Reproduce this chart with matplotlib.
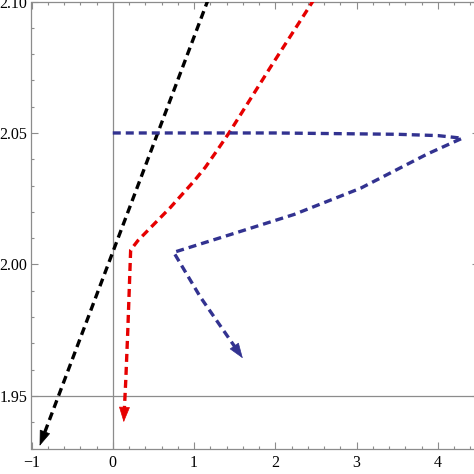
import numpy as np
import matplotlib
matplotlib.use("Agg")
import matplotlib.pyplot as plt
from matplotlib.patches import FancyArrowPatch
from matplotlib.ticker import MultipleLocator, FormatStrFormatter

plt.rcParams['font.family'] = 'serif'
plt.rcParams['font.serif'] = ['Liberation Serif', 'DejaVu Serif']
plt.rcParams['font.size'] = 11.5

# trajectories
black_x = [1.25, -0.90]
black_y = [2.107, 1.931]

red_x = [2.50, 2.46, 2.20, 1.94, 1.43, 1.28, 1.14, 1.00, 0.71, 0.31, 0.22, 0.185, 0.16, 0.135]
red_y = [2.102, 2.100, 2.0875, 2.075, 2.050, 2.0432, 2.0370, 2.0317, 2.0217, 2.0091, 2.0055, 1.975, 1.956, 1.940]

blue_x = [0.0, 2.0, 3.5, 4.0, 4.30, 3.87, 3.05, 2.23, 1.41, 0.75, 1.08, 1.60]
blue_y = [2.050, 2.050, 2.0495, 2.049, 2.048, 2.042, 2.029, 2.019, 2.011, 2.0046, 1.9875, 1.9643]

x_ticks = [-1, 0, 1, 2, 3, 4]
y_ticks = [1.95, 2.00, 2.05, 2.10]

fig = plt.figure(figsize=(4.74, 4.74), dpi=100)
ax = fig.add_axes([31.5 / 474, 25.5 / 474, 447 / 474, 447 / 474])
ax.set_xlim(-1.0, 4.5)
ax.set_ylim(1.93, 2.10)

gray = '#8c8c8c'
ax.axvline(0, color=gray, lw=0.9, zorder=1)
ax.axhline(1.95, color=gray, lw=0.9, zorder=1)

ax.set_xticks(x_ticks)
ax.set_yticks(y_ticks)
ax.xaxis.set_minor_locator(MultipleLocator(0.2))
ax.yaxis.set_minor_locator(MultipleLocator(0.01))
ax.yaxis.set_major_formatter(FormatStrFormatter('%.2f'))
ax.tick_params(which='both', direction='in', top=True, right=True, color=gray, width=0.8)
ax.tick_params(which='major', length=5)
ax.tick_params(which='minor', length=2.5)
ax.tick_params(axis='y', pad=3)
ax.tick_params(axis='x', pad=5)
for s in ax.spines.values():
    s.set_color(gray)
    s.set_linewidth(0.9)

inv = ax.transData.inverted()


def arrow_line(xs, ys, color):
    # dashed body, solid head at the last point
    tip = ax.transData.transform((xs[-1], ys[-1]))
    prev = ax.transData.transform((xs[-2], ys[-2]))
    d = (prev - tip) / np.linalg.norm(prev - tip)
    base = inv.transform(tip + d * 12)
    ax.plot(list(xs[:-1]) + [base[0]], list(ys[:-1]) + [base[1]], color=color,
            lw=2.4, ls=(0, (2.4, 1.5)), dash_capstyle='butt', zorder=3)
    start = inv.transform(tip + d * 14)
    ax.add_patch(FancyArrowPatch(tuple(start), (xs[-1], ys[-1]),
                                 arrowstyle='-|>,head_length=10,head_width=3.6',
                                 mutation_scale=1, color=color, lw=0.5,
                                 shrinkA=0, shrinkB=0, zorder=4))


arrow_line(black_x, black_y, 'black')
arrow_line(red_x, red_y, '#e60000')
arrow_line(blue_x, blue_y, '#323290')

fig.savefig('out.png', dpi=100)
